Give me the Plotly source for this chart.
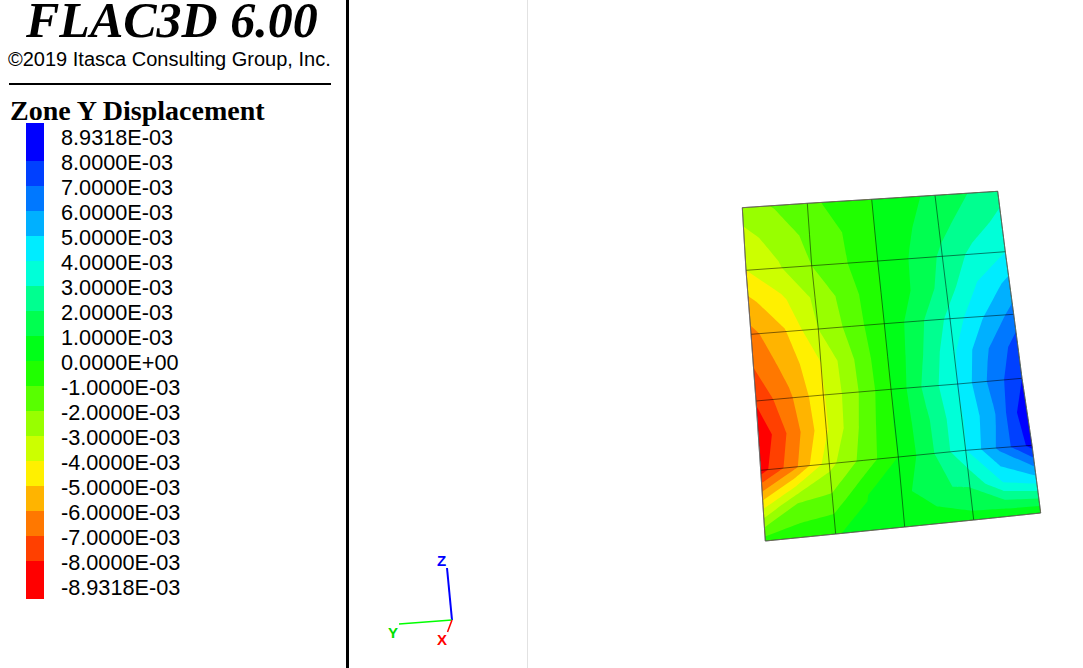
import plotly.graph_objects as go

# values in units of 1E-03
legend_labels = ["8.9318E-03", "8.0000E-03", "7.0000E-03", "6.0000E-03", "5.0000E-03",
                 "4.0000E-03", "3.0000E-03", "2.0000E-03", "1.0000E-03", "0.0000E+00",
                 "-1.0000E-03", "-2.0000E-03", "-3.0000E-03", "-4.0000E-03", "-5.0000E-03",
                 "-6.0000E-03", "-7.0000E-03", "-8.0000E-03", "-8.9318E-03"]
band_colors = ["#0000ff", "#0040ff", "#0078ff", "#00b0ff", "#00ecff", "#00ffd8",
               "#00ff90", "#00ff50", "#00ff18", "#20ff00", "#58ff00", "#98ff00",
               "#ccff00", "#fff000", "#ffb400", "#ff7800", "#ff4000", "#ff0000"]

# mesh corners (screen position of each gridpoint, 6 rows, 5 cols)
node_x = [[742.3, 807.3, 871.7, 935.0, 997.7],
          [746.0, 811.7, 877.7, 942.3, 1005.3],
          [751.0, 818.3, 884.3, 950.0, 1013.7],
          [756.0, 823.3, 891.0, 957.7, 1022.0],
          [760.7, 829.3, 898.3, 965.7, 1032.0],
          [765.3, 835.7, 904.7, 973.7, 1040.7]]
node_y = [[207.7, 203.3, 199.3, 195.3, 191.3],
          [270.3, 265.7, 261.0, 256.3, 251.7],
          [334.3, 329.0, 323.7, 318.7, 314.3],
          [401.0, 395.0, 389.3, 384.0, 378.3],
          [470.3, 463.7, 457.0, 450.3, 445.3],
          [541.0, 534.0, 527.0, 520.0, 513.0]]

# y displacement sampled at gridpoints and zone mid points
disp = [[-2.55, -1.9, -1.3, -0.6, 0.0, 0.65, 1.3, 1.97, 2.65],
        [-3.3, -2.65, -1.7, -1.0, 0.0, 0.85, 1.7, 2.5, 3.3],
        [-4.0, -3.1, -2.0, -1.1, 0.0, 1.05, 2.2, 3.3, 4.0],
        [-5.25, -4.2, -2.8, -1.5, 0.0, 1.1, 2.5, 4.1, 5.3],
        [-6.3, -5.1, -3.0, -1.65, 0.0, 1.65, 3.3, 4.9, 6.4],
        [-7.0, -5.6, -4.0, -2.0, 0.0, 1.85, 3.85, 5.85, 7.5],
        [-7.85, -6.2, -4.1, -2.1, -0.05, 2.2, 4.05, 6.2, 8.0],
        [-8.93, -6.6, -4.15, -1.9, 0.07, 1.9, 3.9, 5.9, 8.93],
        [-8.5, -6.25, -3.35, -1.65, 0.02, 1.85, 3.95, 6.2, 8.4],
        [-4.4, -2.05, -1.75, -0.02, 0.6, 1.9, 2.1, 4.0, 4.6],
        [-0.5, -0.3, -0.02, 0.1, 0.15, 0.15, 0.6, 0.1, 0.05]]


def refine(grid):
    # add a midpoint between neighbouring gridpoints, both ways
    rows = []
    for r in range(len(grid)):
        row = []
        for c in range(len(grid[r]) - 1):
            row += [grid[r][c], (grid[r][c] + grid[r][c + 1]) / 2]
        row.append(grid[r][-1])
        rows.append(row)
    out = []
    for r in range(len(rows) - 1):
        out.append(rows[r])
        out.append([(p + q) / 2 for p, q in zip(rows[r], rows[r + 1])])
    out.append(rows[-1])
    return out


fine_x = refine(node_x)
fine_y = refine(node_y)
a_idx = list(range(9))
b_idx = list(range(11))
mesh_line = "rgba(0,0,0,0.5)"
edge_line = "rgba(110,110,110,0.8)"

fig = go.Figure()

fig.add_trace(go.Contourcarpet(
    a=a_idx, b=b_idx, z=disp, carpet="zones",
    autocontour=False,
    contours=dict(start=-8, end=8, size=1, coloring="fill"),
    colorscale=[[i / 17, c] for i, c in enumerate(reversed(band_colors))],
    line=dict(width=0, smoothing=0),
    showscale=False,
))
grid_axis = dict(tickmode="linear", tick0=0, dtick=2, gridcolor=mesh_line, gridwidth=1, minorgridcount=0,
                 showticklabels="none", linecolor=edge_line, linewidth=1,
                 startlinecolor=edge_line, endlinecolor=edge_line, title=dict(text=""), smoothing=0)
fig.add_trace(go.Carpet(a=a_idx, b=b_idx, x=fine_x, y=fine_y, carpet="zones",
                        aaxis=grid_axis, baxis=grid_axis))

# legend swatches
band_edges = [123] + [161 + 25 * i for i in range(17)] + [599]
fig.add_trace(go.Bar(x=[35] * len(band_colors), base=band_edges[:-1],
                     y=[q - p for p, q in zip(band_edges[:-1], band_edges[1:])],
                     width=18, marker=dict(color=band_colors, line=dict(width=0))))

# axis triad
fig.add_trace(go.Scatter(x=[452, 447], y=[620, 568], mode="lines", line=dict(color="#0000ff", width=2)))
fig.add_trace(go.Scatter(x=[452, 399], y=[620, 624], mode="lines", line=dict(color="#00ff00", width=1.5)))
fig.add_trace(go.Scatter(x=[452, 447.5], y=[620, 632], mode="lines", line=dict(color="#ff0000", width=1.5)))

notes = [
    dict(x=171.5, y=20, text="<b><i>FLAC3D 6.00</i></b>", font=dict(family="Liberation Serif", size=50, color="black")),
    dict(x=169.5, y=59, text="©2019 Itasca Consulting Group, Inc.", font=dict(family="Liberation Sans", size=20, color="black")),
    dict(x=8, y=110, text="<b>Zone Y Displacement</b>", xanchor="left", font=dict(family="Liberation Serif", size=28, color="black")),
    dict(x=441.5, y=560, text="<b>Z</b>", font=dict(family="Liberation Sans", size=15, color="#0000ff")),
    dict(x=393, y=632, text="<b>Y</b>", font=dict(family="Liberation Sans", size=15, color="#00e000")),
    dict(x=441.5, y=639, text="<b>X</b>", font=dict(family="Liberation Sans", size=15, color="#ff0000")),
]
for i, lab in enumerate(legend_labels):
    notes.append(dict(x=59, y=137 + 25 * i, text=lab, xanchor="left",
                      font=dict(family="Liberation Sans", size=21.7, color="black")))
for n in notes:
    fig.add_annotation(showarrow=False, xref="x", yref="y", **{"xanchor": "center", "yanchor": "middle", **n})

fig.add_shape(type="line", x0=9, x1=331, y0=84, y1=84, line=dict(color="black", width=2))
fig.add_shape(type="line", x0=347.5, x1=347.5, y0=0, y1=668, line=dict(color="black", width=3))
fig.add_shape(type="line", x0=527.5, x1=527.5, y0=0, y1=668, line=dict(color="#e2e2e2", width=1))

fig.update_layout(width=1083, height=668, margin=dict(l=0, r=0, t=0, b=0),
                  paper_bgcolor="white", plot_bgcolor="white", showlegend=False,
                  xaxis=dict(range=[0, 1083], visible=False, fixedrange=True),
                  yaxis=dict(range=[668, 0], visible=False, fixedrange=True))

fig.write_html("out.html", config=dict(displayModeBar=False),
               post_script="document.body.style.margin='0';document.documentElement.style.overflow='hidden';")
